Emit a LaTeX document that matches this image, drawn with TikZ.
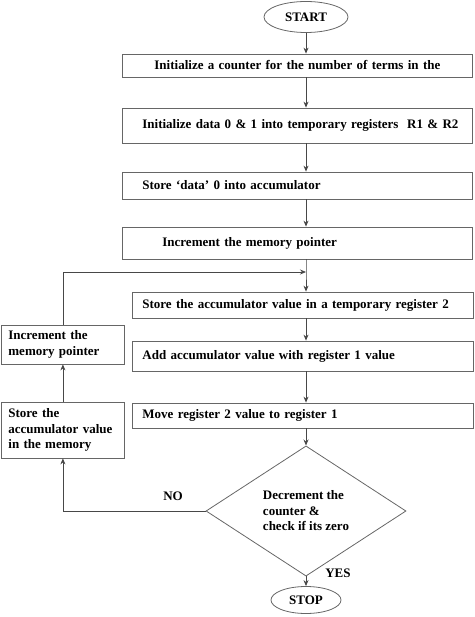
\documentclass[tikz,border=0pt]{standalone}
\usepackage{fontspec}
\setmainfont{Liberation Serif}
\usetikzlibrary{shapes.geometric}
\usetikzlibrary{calc}
\usetikzlibrary{arrows.meta}
\definecolor{linegray}{HTML}{474747}
\definecolor{boxgray}{HTML}{666666}
\tikzset{
every picture/.style={line width=0.8pt, >={Stealth[length=6pt,width=5pt]},
                       x=1pt, y=-1pt},
%%%%%%%%%%  Node styles
every node/.style={font=\fontsize{13}{15.5}\selectfont\bfseries},
terminal/.style={ellipse, draw=boxgray, inner sep=0pt},
process/.style={draw=boxgray, anchor=west, align=left, inner ysep=2pt},
decision/.style={diamond, draw=boxgray, align=left, inner sep=1pt,
                 minimum width=200pt, minimum height=96pt},
%%%% line styles
flow/.style={draw=linegray, ->},
}

\begin{document}
\begin{tikzpicture}
\useasboundingbox (0,0) rectangle (474,617);
\node[terminal, minimum width=84pt, minimum height=31pt] (start) at (306,17) {START};
\node[process, align=center, text width=340pt, inner xsep=5pt, minimum height=23pt]
  (count) at (122,65.5) {Initialize a counter for the number of terms in the};
\node[process, text width=340pt, inner xsep=5pt, minimum height=35pt]
  (regs) at (122,125.5) {\hspace*{15pt}Initialize data 0 \& 1 into temporary registers~ R1 \& R2};
\node[process, text width=310pt, inner xsep=20pt, minimum height=27pt]
  (acc) at (122,185.5) {Store ‘data’ 0 into accumulator};
\node[process, text width=270pt, inner xsep=40pt, minimum height=32pt]
  (ptr) at (122,243) {Increment the memory pointer};
\coordinate (join) at (306,272);
\node[process, text width=321pt, inner xsep=10pt, minimum height=26pt]
  (tmp) at (132,305) {Store the accumulator value in a temporary register 2};
\node[process, text width=321pt, inner xsep=10pt, minimum height=30pt]
  (add) at (132,356) {Add accumulator value with register 1 value};
\node[process, text width=321pt, inner xsep=10pt, minimum height=25pt]
  (move) at (132,415.5) {Move register 2 value to register 1};
\node[process, text width=109pt, inner xsep=7pt, minimum height=39pt]
  (incr) at (1,344.5) {Increment the\\memory pointer};
\node[process, text width=109pt, inner xsep=7pt, minimum height=56pt]
  (store) at (1,430) {Store the\\accumulator value\\in the memory};
\node[decision] (dec) at (306,511) {Decrement the\\counter \&\\check if its zero};
\node[terminal, minimum width=70pt, minimum height=27pt] (stop) at (306,600) {STOP};
\node (no) at (173,496) {NO};
\node (yes) at (338,573) {YES};
% main flow
\draw[flow] (start) -- (start |- count.north);
\draw[flow] (count.south -| start) -- (regs.north -| start);
\draw[flow] (regs.south -| start) -- (acc.north -| start);
\draw[flow] (acc.south -| start) -- (ptr.north -| start);
\draw[flow] (ptr.south -| start) -- (join) -- (tmp.north -| start);
\draw[flow] (tmp.south -| start) -- (add.north -| start);
\draw[flow] (add.south -| start) -- (move.north -| start);
\draw[flow] (move.south -| start) -- (dec.north);
\draw[flow] (dec.south) -- (stop.north);
% loop back
\draw[flow] (dec.west) -| (store.south);
\draw[flow] (store.north) -- (incr.south);
\draw[flow] (incr.north) |- (join);
\end{tikzpicture}
\end{document}
